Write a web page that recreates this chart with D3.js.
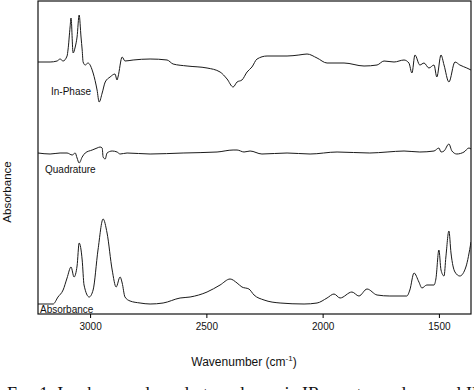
<!DOCTYPE html>
<html>
<head>
<meta charset="utf-8">
<script src="https://cdn.jsdelivr.net/npm/d3@7"></script>
<style>
  body { margin: 0; background: #fff; }
  svg { display: block; }
  .trace { fill: none; stroke: #1a1a1a; stroke-width: 1; }
  .lbl { font-family: "Liberation Sans", Arial, sans-serif; font-size: 10px; fill: #111; }
  .axis text { font-family: "Liberation Sans", Arial, sans-serif; font-size: 10px; fill: #111; }
</style>
</head>
<body>
<div id="chart"></div>
<script>
// wavenumbers (cm-1) and relative intensities (a.u.)
const absWn = [3224, 3159, 3138, 3116, 3099, 3082, 3069, 3056, 3047, 3034, 3026, 3004, 2987, 2966, 2944, 2927, 2905, 2888, 2871, 2862, 2850, 2828, 2785, 2742, 2686, 2613, 2570, 2497, 2441, 2398, 2368, 2347, 2317, 2295, 2252, 2183, 2080, 2024, 1981, 1951, 1925, 1874, 1844, 1809, 1766, 1711, 1638, 1625, 1607, 1586, 1573, 1552, 1521, 1513, 1500, 1491, 1478, 1470, 1457, 1448, 1431, 1410, 1384, 1362];
const absVal = [0, 0, 0.07, 0.14, 0.26, 0.37, 0.27, 0.38, 0.61, 0.44, 0.19, 0.07, 0.14, 0.54, 0.85, 0.71, 0.34, 0.17, 0.27, 0.21, 0.07, 0.03, 0.01, 0, 0.01, 0.06, 0.07, 0.12, 0.19, 0.25, 0.21, 0.17, 0.15, 0.09, 0.04, 0.01, 0, 0.01, 0.06, 0.10, 0.06, 0.12, 0.08, 0.15, 0.09, 0.08, 0.08, 0.14, 0.31, 0.22, 0.16, 0.19, 0.19, 0.25, 0.54, 0.34, 0.28, 0.47, 0.73, 0.51, 0.32, 0.28, 0.37, 0.62];

const quadWn = [3224, 3172, 3129, 3099, 3077, 3064, 3056, 3047, 3034, 3021, 2991, 2970, 2957, 2948, 2944, 2935, 2927, 2905, 2884, 2871, 2841, 2742, 2600, 2454, 2385, 2368, 2338, 2312, 2261, 2153, 2054, 1938, 1797, 1723, 1650, 1582, 1521, 1500, 1491, 1478, 1457, 1444, 1423, 1392, 1371, 1362];
const quadVal = [0, -0.01, 0, 0, -0.02, 0, -0.05, -0.10, -0.04, 0, 0.03, 0.05, 0.06, 0.05, -0.04, -0.06, 0, 0.02, 0.01, -0.01, 0, -0.01, 0, 0.01, 0.03, 0.03, 0.01, 0.02, -0.01, 0, -0.01, 0.01, 0, 0.01, 0.02, 0.01, 0.02, 0.05, 0.01, 0.02, 0.09, 0.02, -0.01, 0.01, 0.05, 0.04];

const inWn = [3224, 3172, 3142, 3129, 3116, 3099, 3095, 3086, 3082, 3073, 3064, 3056, 3047, 3039, 3034, 3030, 3021, 3009, 2987, 2970, 2961, 2948, 2935, 2914, 2893, 2884, 2880, 2862, 2850, 2815, 2742, 2669, 2643, 2583, 2497, 2441, 2411, 2385, 2368, 2347, 2325, 2304, 2282, 2239, 2153, 2102, 2067, 2024, 1981, 1908, 1822, 1766, 1736, 1693, 1650, 1629, 1616, 1603, 1582, 1564, 1543, 1521, 1509, 1491, 1478, 1457, 1431, 1410, 1380, 1362];
const inVal = [0, 0, 0.01, 0.03, 0.01, 0.06, 0.12, 0.35, 0.44, 0.09, 0.15, 0.25, 0.47, 0.25, 0.12, 0, -0.03, -0.01, -0.11, -0.28, -0.40, -0.31, -0.20, -0.15, -0.12, -0.18, -0.15, 0.05, 0.01, 0.02, 0.03, 0.02, -0.02, -0.04, -0.06, -0.10, -0.17, -0.25, -0.20, -0.18, -0.10, -0.05, 0.03, 0.06, 0.06, 0.07, 0.08, 0.04, -0.01, -0.01, -0.04, -0.03, 0.01, 0, 0.02, -0.01, -0.11, 0.07, -0.03, -0.01, -0.06, -0.03, -0.15, 0.07, -0.03, -0.20, 0, -0.03, -0.06, -0.08];

const xTicks = [3000, 2500, 2000, 1500];

const W = 474, H = 390;
const plot = {left: 38, right: 471, top: 1, bottom: 314};

const svg = d3.select('#chart')
  .append('svg')
  .attr('width', W)
  .attr('height', H);

const x = d3.scaleLinear()
  .domain([3224, 1362])
  .range([plot.left, plot.right]);
const y = d3.scaleLinear()
  .domain([0, 3.13])
  .range([plot.bottom, plot.top]);

const series = [
  {name: 'In-Phase', wn: inWn, val: inVal, offset: 2.52, lx: 51, ly: 91},
  {name: 'Quadrature', wn: quadWn, val: quadVal, offset: 1.61, lx: 45, ly: 169},
  {name: 'Absorbance', wn: absWn, val: absVal, offset: 0.10, lx: 40, ly: 309}
];

const line = d3.line()
  .x(d => x(d[0]))
  .y(d => y(d[1]))
  .curve(d3.curveMonotoneX);

svg.append('clipPath').attr('id', 'clip')
  .append('rect')
  .attr('x', plot.left).attr('y', plot.top)
  .attr('width', plot.right - plot.left).attr('height', plot.bottom - plot.top);

series.forEach(s => {
  const pts = s.wn.map((w, i) => [w, s.val[i] + s.offset]);
  svg.append('path')
    .datum(pts)
    .attr('class', 'trace')
    .attr('clip-path', 'url(#clip)')
    .attr('d', line);
  svg.append('text')
    .attr('class', 'lbl')
    .attr('x', s.lx)
    .attr('y', s.ly)
    .attr('dy', '0.35em')
    .text(s.name);
});

// frame
svg.append('rect')
  .attr('x', plot.left).attr('y', plot.top)
  .attr('width', plot.right - plot.left).attr('height', plot.bottom - plot.top)
  .attr('fill', 'none')
  .attr('stroke', '#111')
  .attr('stroke-width', 1.2);

svg.append('g')
  .attr('class', 'axis')
  .attr('transform', `translate(0, ${plot.bottom})`)
  .call(d3.axisBottom(x).tickValues(xTicks).tickSize(4).tickPadding(5).tickFormat(d3.format('d')))
  .call(g => g.select('.domain').remove());

// axis titles
const xt = svg.append('text')
  .attr('x', 244)
  .attr('y', 366)
  .attr('text-anchor', 'middle')
  .style('font-family', '"Liberation Sans", Arial, sans-serif')
  .style('font-size', '12px')
  .attr('fill', '#111');
xt.append('tspan').text('Wavenumber (cm');
xt.append('tspan').attr('dy', -5).style('font-size', '8px').text('-1');
xt.append('tspan').attr('dy', 5).text(')');

svg.append('text')
  .attr('transform', 'translate(11, 192) rotate(-90)')
  .attr('text-anchor', 'middle')
  .style('font-family', '"Liberation Sans", Arial, sans-serif')
  .style('font-size', '11.5px')
  .attr('fill', '#111')
  .text('Absorbance');

// figure caption, only its top shows above the bottom edge
svg.append('text')
  .attr('x', 7)
  .attr('y', 400)
  .style('font-family', '"Liberation Serif", "DejaVu Serif", serif')
  .style('font-size', '18px')
  .attr('fill', '#111')
  .text('Fɪɢ. 1.  In-phase and quadrature dynamic IR spectra and normal IR');
</script>
</body>
</html>
